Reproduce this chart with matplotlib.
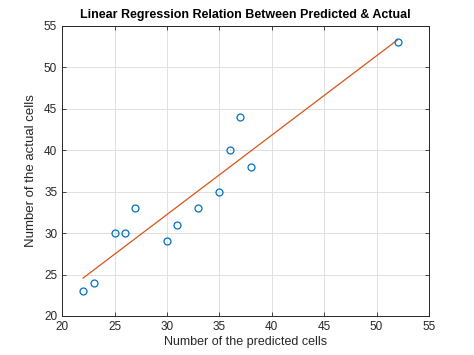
import numpy as np
import matplotlib
matplotlib.use("Agg")
import matplotlib.pyplot as plt

predicted = [22, 23, 25, 26, 27, 30, 31, 33, 35, 36, 37, 38, 52]
actual = [23, 24, 30, 30, 33, 29, 31, 33, 35, 40, 44, 38, 53]
x_ticks = [20, 25, 30, 35, 40, 45, 50, 55]
y_ticks = [20, 25, 30, 35, 40, 45, 50, 55]

plt.rcParams['font.family'] = ['Liberation Sans', 'DejaVu Sans']

fig = plt.figure(figsize=(4.74, 3.55), dpi=100)
ax = fig.add_axes([0.131, 0.110, 0.774, 0.817])

blue = (0, 0.447, 0.741)
orange = (0.85, 0.325, 0.098)

ax.plot(predicted, actual, 'o', mfc='none', mec=blue, ms=5, mew=0.9, zorder=3)
coef = np.polyfit(predicted, actual, 1)
xl = np.array([min(predicted), max(predicted)])
ax.plot(xl, np.polyval(coef, xl), '-', color=orange, lw=0.9, zorder=2)

ax.set_xlim(20, 55)
ax.set_ylim(20, 55)
ax.set_xticks(x_ticks)
ax.set_yticks(y_ticks)
ax.grid(True, color=(0.88, 0.88, 0.88), lw=0.7)
ax.set_axisbelow(True)
for s in ax.spines.values():
    s.set_color((0.15, 0.15, 0.15))
    s.set_linewidth(0.7)
ax.tick_params(direction='in', length=3, width=0.6, colors=(0.15, 0.15, 0.15), labelsize=8.5, top=True, right=True, labeltop=False, labelright=False)
ax.set_xlabel('Number of the predicted cells', fontsize=9, color=(0.15, 0.15, 0.15), labelpad=2)
ax.set_ylabel('Number of the actual cells', fontsize=9.5, color=(0.15, 0.15, 0.15), labelpad=5)
ax.set_title('Linear Regression Relation Between Predicted & Actual', fontsize=9, fontweight='bold', pad=6)

fig.savefig('out.png', dpi=100)
